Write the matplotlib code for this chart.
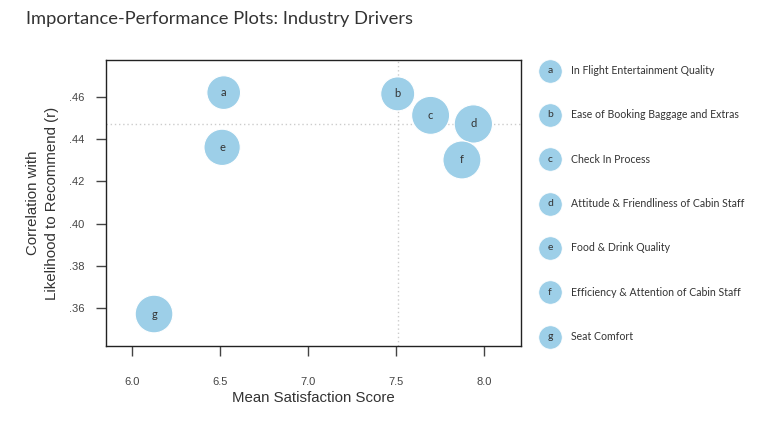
import numpy as np
import matplotlib.pyplot as plt

# data
letters = ["a", "b", "c", "d", "e", "f", "g"]
drivers = ["In Flight Entertainment Quality",
           "Ease of Booking Baggage and Extras",
           "Check In Process",
           "Attitude & Friendliness of Cabin Staff",
           "Food & Drink Quality",
           "Efficiency & Attention of Cabin Staff",
           "Seat Comfort"]
satisfaction = [6.519, 7.508, 7.695, 7.938, 6.510, 7.873, 6.123]
correlation = [0.4622, 0.4616, 0.4514, 0.4473, 0.4362, 0.4302, 0.3570]
bubble_px = [33.7, 34.0, 38.0, 38.3, 36.3, 38.0, 37.7]  # bubble diameters

blue = "#9dcfe8"
dark = "#333333"

fig = plt.figure(figsize=(7.68, 4.26), dpi=100)
ax = fig.add_axes([106 / 768, 80 / 426, 414.7 / 768, 286 / 426])

s = [(d * 0.72) ** 2 for d in bubble_px]
ax.axvline(np.median(satisfaction), color="#cccccc", ls=(0, (1, 2)), lw=1, zorder=1)
ax.axhline(np.median(correlation), color="#cccccc", ls=(0, (1, 2)), lw=1, zorder=1)
ax.scatter(satisfaction, correlation, s=s, color=blue, edgecolor="white", lw=0.8, zorder=2)
for x, y, l in zip(satisfaction, correlation, letters):
    ax.text(x, y, l, ha="center", va="center", fontsize=8, color=dark,
            family="Lato", zorder=3)

ax.set_xlim(5.85, 8.207)
ax.set_ylim(0.3418, 0.4777)
ax.set_xticks([6.0, 6.5, 7.0, 7.5, 8.0])
ax.set_xticklabels(["6.0", "6.5", "7.0", "7.5", "8.0"])
yt = [0.36, 0.38, 0.40, 0.42, 0.44, 0.46]
ax.set_yticks(yt)
ax.set_yticklabels([("%.2f" % v)[1:] for v in yt])
ax.tick_params(length=7.5, width=1, color="#444444", labelsize=8, labelcolor="#444444")
ax.tick_params(axis="x", pad=15)
ax.tick_params(axis="y", pad=8)
for lab in ax.get_xticklabels() + ax.get_yticklabels():
    lab.set_family("Liberation Sans")
for sp in ax.spines.values():
    sp.set_linewidth(1)
    sp.set_color("#222222")

ax.set_xlabel("Mean Satisfaction Score", fontsize=10.8, color=dark,
              family="Liberation Sans", labelpad=3)
ax.set_ylabel("Correlation with\nLikelihood to Recommend (r)", fontsize=10.8,
              color=dark, family="Liberation Sans", labelpad=7, linespacing=1.5)

fig.text(26 / 768, 1 - 19 / 426, "Importance-Performance Plots: Industry Drivers",
         fontsize=13.2, color=dark, family="Lato",
         va="center", ha="left")

# legend on the right
lg = fig.add_axes([540 / 768, 67.2 / 426, 228 / 768, 310.3 / 426])
lg.set_xlim(0, 1)
lg.set_ylim(len(letters) - 0.5, -0.5)
lg.axis("off")
idx = np.arange(len(letters))
lg.scatter(np.full(len(letters), 10 / 228), idx, s=(23.4 * 0.72) ** 2, color=blue,
           edgecolor="white", lw=0.5, clip_on=False)
for i, (l, d) in enumerate(zip(letters, drivers)):
    lg.text(10 / 228, i, l, ha="center", va="center", fontsize=7.5, color=dark, family="Lato")
    lg.text(30.7 / 228, i, d, ha="left", va="center", fontsize=7.6, color=dark, family="Lato")

fig.savefig("out.png", dpi=100)
